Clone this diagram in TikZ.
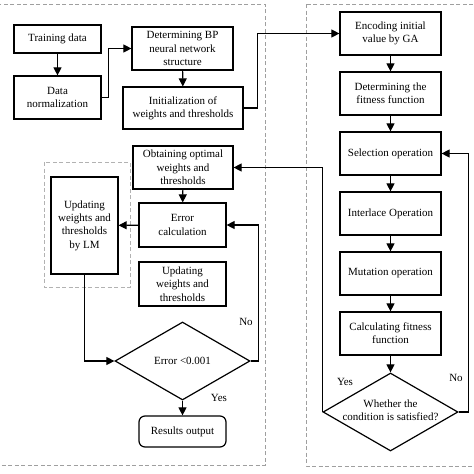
\documentclass[tikz,border=0pt]{standalone}
\usepackage{fontspec}
\setmainfont{Liberation Serif}
\usetikzlibrary{arrows.meta,shapes.geometric,calc}
\tikzset{
  box/.style={draw=black, line width=1.2pt, rectangle, align=center, inner sep=1pt,
    font=\fontsize{11}{13.3}\selectfont, fill=white},
  dec/.style={draw=black, line width=1.2pt, diamond, inner sep=0pt, minimum width=135pt, minimum height=78pt},
  lbl/.style={font=\fontsize{11}{13.3}\selectfont, align=center, inner sep=0pt},
  conn/.style={line width=1.1pt, -{Triangle[length=8pt,width=8pt]}},
  frame/.style={draw=gray!75, line width=0.8pt, dash pattern=on 4pt off 2.5pt},
}
\begin{document}
\begin{tikzpicture}[x=1pt,y=-1pt]
\useasboundingbox (0,0) rectangle (474,474);
% outer frames
\draw[frame] (-5,4) rectangle (265,465);
\draw[frame] (306,4) rectangle (480,466);
\draw[frame, draw=gray!60] (44,162) rectangle (130,287);

% left column
\node[box, minimum width=87pt, minimum height=28pt] (train) at (57.5,39) {Training data};
\node[box, minimum width=87pt, minimum height=43pt] (norm) at (57.5,97.5) {Data\\normalization};
\node[box, minimum width=101pt, minimum height=43pt] (bp) at (182.5,48.5) {Determining BP\\neural network\\structure};
\node[box, minimum width=120pt, minimum height=42pt] (init) at (183,108) {Initialization of\\weights and thresholds};
\node[box, minimum width=100pt, minimum height=43pt] (obt) at (183,167.5) {Obtaining optimal\\weights and\\thresholds};
\node[box, minimum width=87pt, minimum height=44pt] (err) at (182.5,225) {Error\\calculation};
\node[box, minimum width=87pt, minimum height=44pt] (upd) at (182.5,284) {Updating\\weights and\\thresholds};
\node[box, minimum width=67pt, minimum height=97pt] (lm) at (84.5,225.5) {Updating\\weights and\\thresholds\\by LM};
\node[dec] (dec1) at (182.5,361) {};
\node[lbl] (dec1t) at (dec1.center) {Error <0.001};
\node[box, rounded corners=6pt, minimum width=87pt, minimum height=31pt] (res) at (182.5,431.5) {Results output};

% right column
\node[box, minimum width=101pt, minimum height=43pt] (enc) at (390.5,33.5) {Encoding initial\\value by GA};
\node[box, minimum width=101pt, minimum height=43pt] (fit) at (390.5,93.5) {Determining the\\fitness function};
\node[box, minimum width=101pt, minimum height=43pt] (sel) at (390.5,153.5) {Selection operation};
\node[box, minimum width=101pt, minimum height=43pt] (inter) at (390.5,213.5) {Interlace Operation};
\node[box, minimum width=101pt, minimum height=43pt] (mut) at (390.5,273.5) {Mutation operation};
\node[box, minimum width=101pt, minimum height=43pt] (calc) at (390.5,333.5) {Calculating fitness\\function};
\node[dec] (dec2) at (390.5,412) {};
\node[lbl] (dec2t) at (390.5,410) {Whether the\\condition is satisfied?};

% connectors
\draw[conn] (train) -- (norm);
\draw[conn] (norm.east) -- ++(7,0) |- (bp.west);
\draw[conn] (bp) -- (init);
\draw[conn] (init.east) -- ++(14,0) |- (enc.west);
\draw[conn] (enc) -- (fit);
\draw[conn] (fit) -- (sel);
\draw[conn] (sel) -- (inter);
\draw[conn] (inter) -- (mut);
\draw[conn] (mut) -- (calc);
\draw[conn] (calc) -- (dec2);
\draw[conn] (dec2.west) |- (obt.east);
\draw[conn] (dec2.east) -- ++(10,0) |- (sel.east);
\draw[conn] (obt) -- (err);
\draw[conn] (err) -- (lm);
\draw[conn] (lm.south) |- (dec1.west);
\draw[conn] (dec1.east) -- ++(8,0) |- (err.east);
\draw[conn] (dec1) -- (res);

% labels
\node[lbl] (no1) at (246,322) {No};
\node[lbl] (yes1) at (219,398) {Yes};
\node[lbl] (yes2) at (345,382) {Yes};
\node[lbl] (no2) at (456,378) {No};
\end{tikzpicture}
\end{document}
